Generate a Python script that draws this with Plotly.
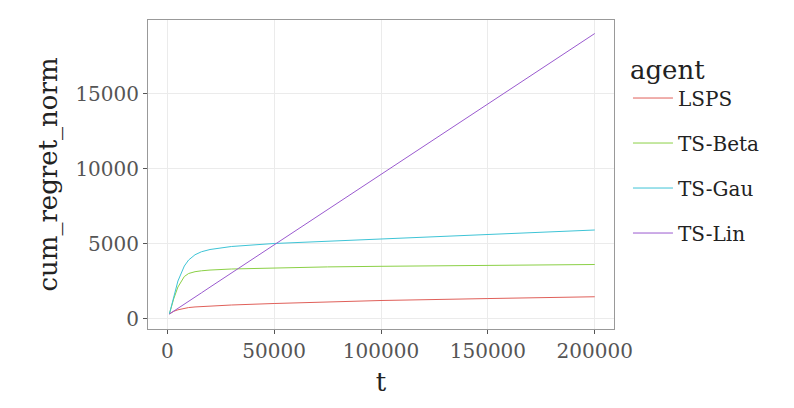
import plotly.graph_objects as go

t = [1000, 3000, 5000, 8000, 10000, 13000, 16000, 20000, 30000, 50000, 75000, 100000, 150000, 200000]
lsps = [300, 480, 580, 680, 730, 770, 800, 830, 900, 1000, 1100, 1200, 1330, 1450]
ts_beta = [300, 1300, 2100, 2800, 3000, 3120, 3180, 3230, 3300, 3380, 3440, 3480, 3550, 3600]
ts_gau = [300, 1500, 2500, 3500, 3900, 4250, 4450, 4600, 4800, 5000, 5150, 5350, 5650, 5900]
ts_lin = [300, 480, 670, 950, 1150, 1430, 1710, 2090, 3030, 4900, 7250, 9600, 14300, 19000]
agents = ["LSPS", "TS-Beta", "TS-Gau", "TS-Lin"]
colors = ["#E0605A", "#8BD046", "#3EC4D6", "#9A5ACF"]
x_ticks = [0, 50000, 100000, 150000, 200000]
y_ticks = [0, 5000, 10000, 15000]

fig = go.Figure()
for name, ys, c in zip(agents, [lsps, ts_beta, ts_gau, ts_lin], colors):
    fig.add_trace(go.Scatter(x=t, y=ys, mode="lines", name=name, legendgroup=name,
                             line=dict(color=c, width=1)))

font = "DejaVu Serif"
fig.update_layout(
    width=794, height=408, margin=dict(l=140, r=188, t=12, b=87),
    plot_bgcolor="white", paper_bgcolor="white",
    font=dict(family=font, size=20, color="#222"),
    legend=dict(title=dict(text="agent", font=dict(size=26)), x=1.03, y=0.92, yanchor="top",
                font=dict(size=20), tracegroupgap=16, itemwidth=40),
    xaxis=dict(title=dict(text="t", font=dict(size=26), standoff=10), range=[-9000, 209000],
               tickvals=x_ticks, ticktext=[str(v) for v in x_ticks], tickfont=dict(size=20, color="#555"),
               showgrid=True, gridcolor="#EBEBEB", zeroline=False, showline=True, mirror=True,
               linecolor="#999", ticks="outside", ticklen=4, tickcolor="#555", automargin=False),
    yaxis=dict(title=dict(text="cum_regret_norm", font=dict(size=26), standoff=10), range=[-700, 19900],
               tickvals=y_ticks, ticktext=[str(v) for v in y_ticks], tickfont=dict(size=20, color="#555"),
               showgrid=True, gridcolor="#EBEBEB", zeroline=False, showline=True, mirror=True,
               linecolor="#999", ticks="outside", ticklen=4, tickcolor="#555", automargin=False),
)
fig.write_html("out.html")
